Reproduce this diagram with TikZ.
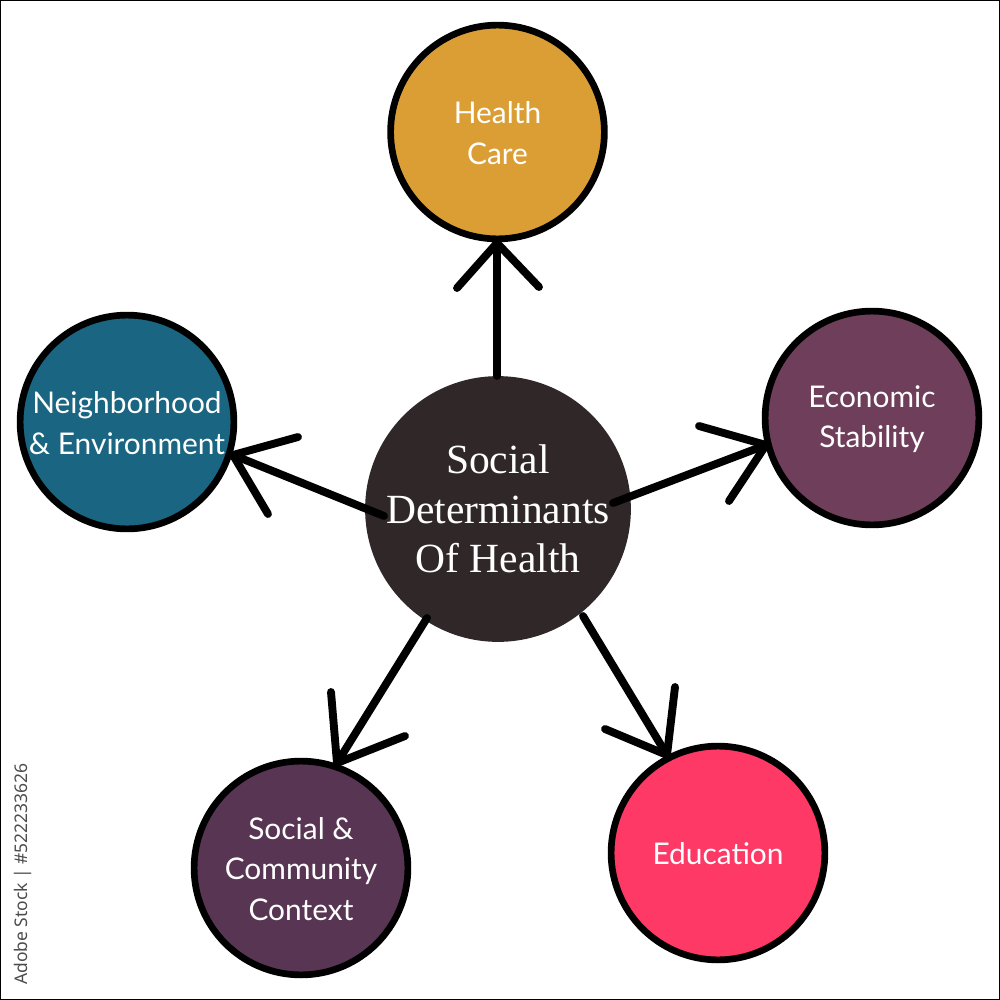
\documentclass[tikz,border=0pt]{standalone}
\usepackage{fontspec}
\setmainfont{Lato}
\newfontfamily\serifcenter{Liberation Serif}
\newfontfamily\stockfont{Noto Sans}
\definecolor{cHealth}{HTML}{DB9E35}
\definecolor{cNeigh}{HTML}{1A6581}
\definecolor{cEcon}{HTML}{6F3E5A}
\definecolor{cSocial}{HTML}{583553}
\definecolor{cEdu}{HTML}{FE3966}
\definecolor{cCenter}{HTML}{302729}
\newcommand{\lowerstrut}{\rule{0pt}{17.5pt}}
\tikzset{
 topic/.style={circle,draw=black,line width=1.7mm,minimum size=54.3mm,inner sep=0pt,align=center,text=white,font=\fontsize{21.6}{29}\selectfont},
 hub/.style={circle,fill=cCenter,minimum size=67.5mm,inner sep=0pt,align=center,text=white,font=\serifcenter\fontsize{30}{35.7}\selectfont},
 link/.style={line width=2mm,line cap=round,line join=round},
}
\begin{document}
\begin{tikzpicture}[x=0.254mm,y=-0.254mm]
\useasboundingbox (0,0) rectangle (1000,1000);
\fill[white] (0,0) rectangle (1000,1000);
\draw[black,line width=0.5mm] (0,0) rectangle (1000,1000);
\coordinate (hH) at (497,376);
\coordinate (hN) at (384,516);
\coordinate (hE) at (613,503);
\coordinate (hS) at (427,618);
\coordinate (hD) at (583,616);
\coordinate (tH) at (497,243);
\coordinate (tN) at (233,455);
\coordinate (tE) at (766,445);
\coordinate (tS) at (337,763);
\coordinate (tD) at (667,755);
\coordinate (aH1) at (457,288); \coordinate (aH2) at (539,287);
\coordinate (aN1) at (298,437); \coordinate (aN2) at (268,514);
\coordinate (aE1) at (699,426); \coordinate (aE2) at (729,501);
\coordinate (aS1) at (331,692); \coordinate (aS2) at (405,736);
\coordinate (aD1) at (675,687); \coordinate (aD2) at (605,729);
\node[hub] (hub) at (498,509) {Social\\Determinants\\Of Health};
\node[topic,fill=cHealth] (health) at (497.5,132) {\lowerstrut Health\\Care};
\node[topic,fill=cNeigh] (neigh) at (127,422) {\lowerstrut Neighborhood\\\&~Environment};
\node[topic,fill=cEcon] (econ) at (872,418) {\lowerstrut Economic\\Stability};
\node[topic,fill=cSocial] (social) at (301,868) {\lowerstrut Social \&\\Community\\Context};
\node[topic,fill=cEdu,yshift=0pt] (edu) at (718,853) {\rule{0pt}{16.5pt}Education};
\draw[link] (hH) -- (tH);
\draw[link] (hN) -- (tN);
\draw[link] (hE) -- (tE);
\draw[link] (hS) -- (tS);
\draw[link] (hD) -- (tD);
\draw[link] (aH1) -- (tH) -- (aH2);
\draw[link] (aN1) -- (tN) -- (aN2);
\draw[link] (aE1) -- (tE) -- (aE2);
\draw[link] (aS1) -- (tS) -- (aS2);
\draw[link] (aD1) -- (tD) -- (aD2);
\node[rotate=90,text=black!70,font=\stockfont\fontsize{12.6}{13}\selectfont,inner sep=0pt] (stock) at (23,874) {Adobe Stock | \#522233626};
\end{tikzpicture}
\end{document}
